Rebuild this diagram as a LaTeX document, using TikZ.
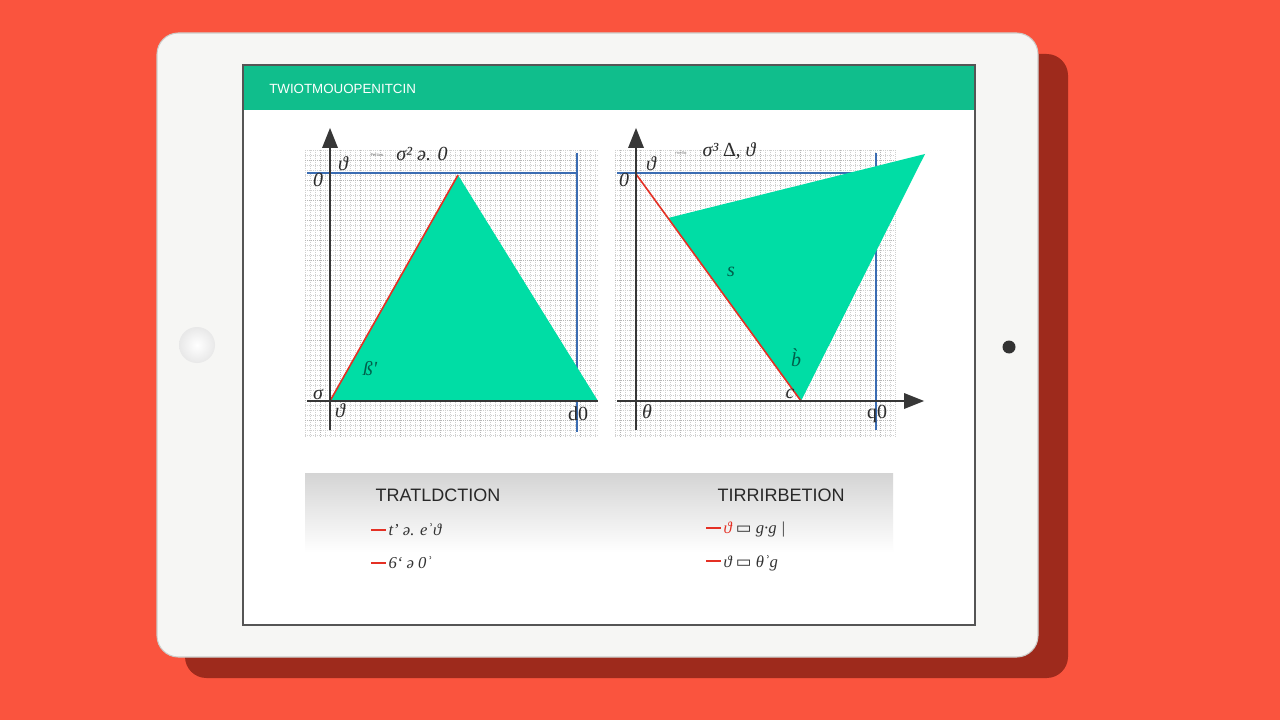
\documentclass[tikz,border=0pt]{standalone}
\usepackage{fontspec}
\setmainfont{DejaVu Sans}
\newfontfamily\headfont{Liberation Sans}
\newfontfamily\labfont{Liberation Serif}
\newfontfamily\symfont{DejaVu Sans}
\newcommand{\reddash}{\textcolor[RGB]{228,48,36}{\rule[0.32em]{11pt}{1.3pt}}\hspace{2pt}}

\begin{document}
\begin{tikzpicture}[x=0.75pt,y=0.75pt,yscale=-1,xscale=1,
  gridminor/.style={draw={rgb, 255:red, 208; green, 208; blue, 208}, line width=0.3pt, dash pattern={on 0.5pt off 1pt}, step=3.75pt},
  gridmajor/.style={draw={rgb, 255:red, 182; green, 182; blue, 182}, line width=0.35pt, dash pattern={on 0.6pt off 0.9pt}, step=15pt},
  blueline/.style={draw={rgb, 255:red, 58; green, 108; blue, 178}, line width=1.1pt},
  axisline/.style={draw={rgb, 255:red, 55; green, 55; blue, 55}, line width=1.1pt},
  axishead/.style={fill={rgb, 255:red, 55; green, 55; blue, 55}, draw opacity=0},
  trifill/.style={fill={rgb, 255:red, 0; green, 221; blue, 165}, draw opacity=0},
  redside/.style={draw={rgb, 255:red, 228; green, 48; blue, 36}, line width=1.2pt},
  lab/.style={inner sep=0.75pt, font=\labfont\itshape\fontsize{15}{15}\selectfont, text={rgb, 255:red, 45; green, 45; blue, 45}},
  tealab/.style={lab, text={rgb, 255:red, 0; green, 95; blue, 75}},
  tinylab/.style={inner sep=0.75pt, font=\fontsize{3}{3}\selectfont, text={rgb, 255:red, 120; green, 120; blue, 120}},
  rowlab/.style={anchor=west, inner sep=0.75pt, font=\labfont\itshape\fontsize{12.5}{12.5}\selectfont, text={rgb, 255:red, 50; green, 50; blue, 50}},
  caption/.style={inner sep=0.75pt, font=\headfont\fontsize{13.5}{13.5}\selectfont, text={rgb, 255:red, 40; green, 40; blue, 40}}
]

%Shape: Background
\fill [fill={rgb, 255:red, 250; green, 84; blue, 62 }] (0,0) rectangle (1280,720) ;

%Shape: Tablet shadow
\fill [fill={rgb, 255:red, 158; green, 42; blue, 28 }, rounded corners=16pt] (185,54) rectangle (1068,678) ;
%Shape: Tablet body
\draw [draw={rgb, 255:red, 205; green, 205; blue, 202 }, fill={rgb, 255:red, 246; green, 246; blue, 244 }, line width=0.8pt, rounded corners=16pt] (157,33) rectangle (1038,657) ;
%Shape: Home button
\shade [inner color=white, outer color={rgb, 255:red, 232; green, 232; blue, 232 }] (197,345) circle (18) ;
%Shape: Camera
\fill [fill={rgb, 255:red, 50; green, 50; blue, 50 }] (1009,347) circle (6.5) ;

%Shape: Screen
\fill [fill=white] (243,65) rectangle (975,625) ;
\fill [fill={rgb, 255:red, 16; green, 190; blue, 140 }] (243,65) rectangle (975,110) ;
\draw [draw={rgb, 255:red, 85; green, 85; blue, 85 }, line width=1pt] (243,65) rectangle (975,625) ;

% Text Node
\draw (268,89) node [anchor=west, inner sep=0.75pt, font=\headfont\fontsize{10}{10}\selectfont, text=white] (title) {TWIOTMOUOPENITCIN};

%Shape: Left grid
\draw [gridminor] (305,150) grid (598,437) ;
\draw [gridmajor] (305,150) grid (598,437) ;
%Straight Lines
\draw [blueline] (307,173) -- (577,173) ;
\draw [blueline] (577,153) -- (577,432) ;
%Shape: Left triangle
\fill [trifill] (330,401) -- (458,175) -- (598,401) -- cycle ;
\draw [redside] (330,401) -- (458,175) ;
%Straight Lines
\draw [axisline] (330,430) -- (330,146) ;
\draw [shift={(330,128)}, rotate=90] [axishead] (20,-8) -- (0,0) -- (20,8) -- cycle ;
\draw [axisline] (307,401) -- (598,401) ;

% Text Node
\draw (318,180) node [lab] (ltop) {0};
\draw (343,164) node [lab] (lvar) {ϑ};
\draw (377,155) node [tinylab] (lsmall) {Pellow};
\draw (422,154) node [lab] (lfun) {σ² ə. 0};
\draw (318,394) node [lab] (lorig) {σ};
\draw (340,411) node [lab] (lzero) {ϑ};
\draw (578,414) node [lab, font=\labfont\fontsize{15}{15}\selectfont] (lend) {d0};
\draw (370,369) node [tealab] (lside) {ß'};

%Shape: Right grid
\draw [gridminor] (615,150) grid (895,437) ;
\draw [gridmajor] (615,150) grid (895,437) ;
%Straight Lines
\draw [blueline] (617,173) -- (860,173) ;
\draw [blueline] (876,153) -- (876,430) ;
%Shape: Right triangle
\fill [trifill] (668,218) -- (925,154) -- (801,401) -- cycle ;
\draw [redside] (636,174) -- (801,401) ;
%Straight Lines
\draw [axisline] (636,430) -- (636,146) ;
\draw [shift={(636,128)}, rotate=90] [axishead] (20,-8) -- (0,0) -- (20,8) -- cycle ;
\draw [axisline] (617,401) -- (905,401) ;
\draw [shift={(924,401)}, rotate=180] [axishead] (20,-8) -- (0,0) -- (20,8) -- cycle ;

% Text Node
\draw (624,180) node [lab] (rtop) {0};
\draw (651,164) node [lab] (rvar) {ϑ};
\draw (681,153) node [tinylab] (rsmall) {mello};
\draw (729,151) node [lab] (rfun) {σ³ ∆, ϑ};
\draw (731,272) node [tealab] (rside) {s};
\draw (796,358) node [tealab] (rtip) {b̀};
\draw (790,394) node [lab] (rcorner) {c};
\draw (647,412) node [lab] (rzero) {θ};
\draw (877,414) node [lab, font=\labfont\fontsize{15}{15}\selectfont] (rend) {q0};

%Shape: Legend strip
\shade [top color={rgb, 255:red, 212; green, 212; blue, 212 }, bottom color=white] (305,473) rectangle (893,552) ;

% Text Node
\draw (438,495) node [caption] (trans) {TRATLDCTION};
\draw (781,495) node [caption] (turn) {TIRRIRBETION};
\draw (370,530) node [rowlab] (transa) {\reddash tʼ ə. eʾϑ};
\draw (370,563) node [rowlab] (transb) {\reddash 6ʻ ə 0ʾ};
\draw (705,530) node [rowlab] (turna) {\reddash\textcolor[RGB]{228,48,36}{ϑ} {\symfont ▭} g·g |};
\draw (705,563) node [rowlab] (turnb) {\reddash ϑ {\symfont ▭} θʾg};

\end{tikzpicture}
\end{document}
